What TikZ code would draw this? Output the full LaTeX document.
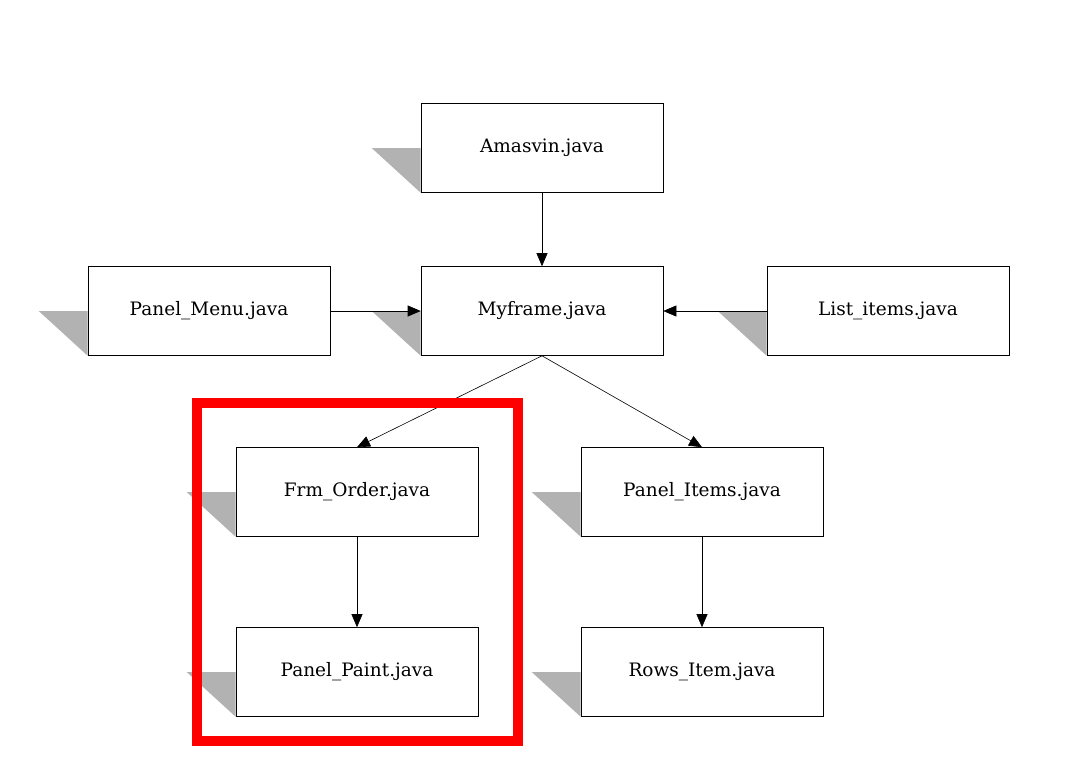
\documentclass[tikz,border=0pt]{standalone}
\usepackage{fontspec}
\setmainfont{DejaVu Serif}
\usetikzlibrary{arrows.meta}
\tikzset{
  file/.style={draw,line width=0.6pt,minimum width=242pt,minimum height=89pt,font=\fontsize{18.5}{22}\selectfont,fill=white},
  dep/.style={-{Triangle[length=13pt,width=11pt]},line width=0.6pt},
  shade/.style={fill=black!30}
}
\begin{document}
\begin{tikzpicture}[x=1pt,y=-1pt]
\useasboundingbox (0,0) rectangle (1070,782);
% files
\node[file] (amasvin) at (542,148) {Amasvin.java};
\node[file] (menu) at (209,311) {Panel\_Menu.java};
\node[file] (myframe) at (542,311) {Myframe.java};
\node[file] (list) at (888,311) {List\_items.java};
\node[file] (order) at (357,492) {Frm\_Order.java};
\node[file] (items) at (702,492) {Panel\_Items.java};
\node[file] (paint) at (357,672) {Panel\_Paint.java};
\node[file] (rows) at (702,672) {Rows\_Item.java};
% shadows
\foreach \n in {amasvin,menu,myframe,list,order,items,paint,rows}{
  \fill[shade] (\n.west) -- ++(-49,0) -- (\n.south west) -- cycle;}
% dependencies
\draw[dep] (amasvin) -- (myframe);
\draw[dep] (menu) -- (myframe);
\draw[dep] (list) -- (myframe);
\draw[dep] (myframe.south) -- (order.north);
\draw[dep] (myframe.south) -- (items.north);
\draw[dep] (order) -- (paint);
\draw[dep] (items) -- (rows);
% highlight
\draw[red,line width=10pt] (197,403) rectangle (518,741);
\end{tikzpicture}
\end{document}
